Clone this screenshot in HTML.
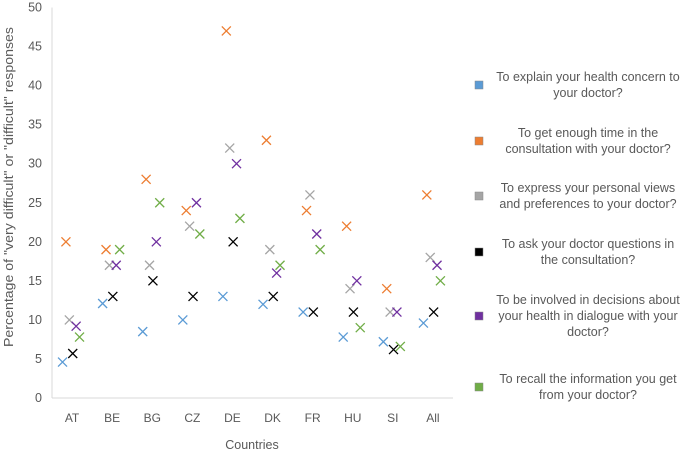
<!DOCTYPE html>
<html><head><meta charset="utf-8"><style>
html,body{margin:0;padding:0;background:#fff;}
svg{display:block;font-family:"Liberation Sans",sans-serif;}
</style></head><body>
<svg id="chart" width="685" height="453">
<g id="grid"></g><g id="marks"></g><g id="legend"></g>
</svg>
<script>
const categories=["AT","BE","BG","CZ","DE","DK","FR","HU","SI","All"];
const seriesNames=["To explain your health concern to|your doctor?","To get enough time in the|consultation with your doctor?","To express your personal views|and preferences to your doctor?","To ask your doctor questions in|the consultation?","To be involved in decisions about|your health in dialogue with your|doctor?","To recall the information you get|from your doctor?"];
const colors=["#5b9bd5","#ed7d31","#a5a5a5","#000000","#7030a0","#70ad47"];
const sExplain=[4.6,12.1,8.5,10,13,12,11,7.8,7.2,9.6];
const sTime=[20,19,28,24,47,33,24,22,14,26];
const sExpress=[10,17,17,22,32,19,26,14,11,18];
const sAsk=[5.7,13,15,13,20,13,11,11,6.2,11];
const sInvolved=[9.2,17,20,25,30,16,21,15,11,17];
const sRecall=[7.8,19,25,21,23,17,19,9,6.6,15];
const series=[sExplain,sTime,sExpress,sAsk,sInvolved,sRecall];
const yTicks=[0,5,10,15,20,25,30,35,40,45,50];
const NS="http://www.w3.org/2000/svg";
const L=52,R=453,T=7.5,B=398;
const slot=(R-L)/categories.length;
const x=(i,k)=>L+slot*(i+0.5)+(k-2.8)*3.4;
const y=v=>B-(v/50)*(B-T);
function mk(tag,a,p){const e=document.createElementNS(NS,tag);for(const k in a)e.setAttribute(k,a[k]);p.appendChild(e);return e;}
const g=document.getElementById('grid'),m=document.getElementById('marks'),lg=document.getElementById('legend');
let ax=mk('line',{x1:L,x2:R,y1:B,y2:B,stroke:'#d9d9d9','stroke-width':1},g);


let ay=mk('line',{x1:L,x2:L,y1:T,y2:B,stroke:'#d9d9d9','stroke-width':1},g);


yTicks.forEach(v=>{const t=mk('text',{x:L-10,y:y(v)+4,'text-anchor':'end','font-size':12.5,fill:'#595959'},g);t.textContent=v;

});
categories.forEach((c,i)=>{const t=mk('text',{x:L+slot*(i+0.5),y:422,'text-anchor':'middle','font-size':12,fill:'#595959'},g);t.textContent=c;

});
let xt=mk('text',{x:252,y:449,'text-anchor':'middle','font-size':12.5,fill:'#595959'},g);xt.textContent='Countries';


let yt=mk('text',{x:0,y:0,'text-anchor':'middle','font-size':12.5,fill:'#595959',transform:'translate(13,187) rotate(-90)',textLength:320,lengthAdjust:'spacingAndGlyphs'},g);yt.textContent='Percentage of "very difficult" or "difficult" responses';


series.forEach((s,k)=>{s.forEach((v,i)=>{const cx=x(i,k),cy=y(v),d=4.5;
const p=mk('path',{d:`M${cx-d},${cy-d}L${cx+d},${cy+d}M${cx-d},${cy+d}L${cx+d},${cy-d}`,stroke:colors[k],'stroke-width':1.3,fill:'none'},m);

});});
const legY=[[77,93],[133,149],[188,204],[244,260],[300,316,332],[379,395]];
seriesNames.forEach((n,k)=>{const ys=legY[k];const mid=(ys[0]+ys[ys.length-1])/2;
const r=mk('rect',{x:475,y:mid-4,width:8,height:8,fill:colors[k],stroke:'#888','stroke-width':0.5},lg);


n.split('|').forEach((line,j)=>{const t=mk('text',{x:588,y:ys[j]+4,'text-anchor':'middle','font-size':12.5,fill:'#595959'},lg);t.textContent=line;

});});
</script>
</body></html>
